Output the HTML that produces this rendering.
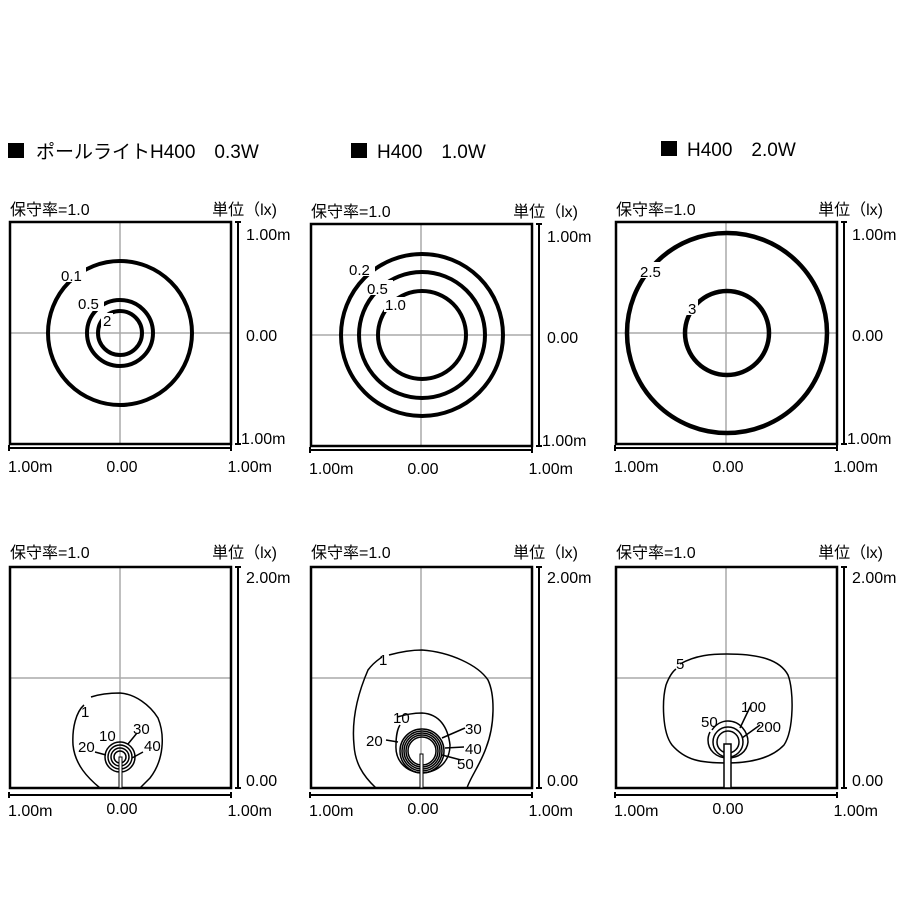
<!DOCTYPE html>
<html><head><meta charset="utf-8"><style>
html,body{margin:0;padding:0;background:#fff;}
svg{display:block;}
text{font-family:"Liberation Sans","Noto Sans CJK JP",sans-serif;fill:#000;}
</style></head><body>
<svg width="900" height="900" viewBox="0 0 900 900" xmlns="http://www.w3.org/2000/svg">
<rect width="900" height="900" fill="#fff"/>
<!-- titles -->
<rect x="8" y="143" width="16" height="15" fill="#000"/>
<text x="36" y="158" font-size="19">ポールライトH400　0.3W</text>
<rect x="351" y="143" width="16" height="15" fill="#000"/>
<text x="377" y="158" font-size="19">H400　1.0W</text>
<rect x="661" y="141" width="16" height="15" fill="#000"/>
<text x="687" y="156" font-size="19">H400　2.0W</text>

<defs>
<g id="frameTop">
  <text x="10" y="215" font-size="16">保守率=1.0</text>
  <text x="277" y="215" font-size="16" text-anchor="end">単位（lx)</text>
  <line x1="10" y1="333" x2="231" y2="333" stroke="#aaa" stroke-width="1.5"/>
  <line x1="120" y1="222" x2="120" y2="444" stroke="#aaa" stroke-width="1.5"/>
  <rect x="10" y="222" width="221" height="222" fill="none" stroke="#000" stroke-width="2.5"/>
  <line x1="238" y1="222" x2="238" y2="444" stroke="#000" stroke-width="2"/>
  <line x1="235" y1="222" x2="241" y2="222" stroke="#000" stroke-width="2"/>
  <line x1="235" y1="444" x2="241" y2="444" stroke="#000" stroke-width="2"/>
  <line x1="9" y1="448" x2="231" y2="448" stroke="#000" stroke-width="2"/>
  <line x1="9" y1="445" x2="9" y2="451" stroke="#000" stroke-width="2"/>
  <line x1="231" y1="445" x2="231" y2="451" stroke="#000" stroke-width="2"/>
  <text x="246" y="240" font-size="16">1.00m</text>
  <text x="246" y="341" font-size="16">0.00</text>
  <text x="241" y="444" font-size="16">1.00m</text>
  <text x="8" y="472" font-size="16">1.00m</text>
  <text x="122" y="472" font-size="16" text-anchor="middle">0.00</text>
  <text x="272" y="472" font-size="16" text-anchor="end">1.00m</text>
</g>
<g id="frameBot">
  <text x="10" y="558" font-size="16">保守率=1.0</text>
  <text x="277" y="558" font-size="16" text-anchor="end">単位（lx)</text>
  <line x1="10" y1="678" x2="231" y2="678" stroke="#aaa" stroke-width="1.5"/>
  <line x1="120" y1="567" x2="120" y2="788" stroke="#aaa" stroke-width="1.5"/>
  <rect x="10" y="567" width="221" height="221" fill="none" stroke="#000" stroke-width="2.5"/>
  <line x1="238" y1="567" x2="238" y2="788" stroke="#000" stroke-width="2"/>
  <line x1="235" y1="567" x2="241" y2="567" stroke="#000" stroke-width="2"/>
  <line x1="235" y1="788" x2="241" y2="788" stroke="#000" stroke-width="2"/>
  <line x1="9" y1="795" x2="231" y2="795" stroke="#000" stroke-width="2"/>
  <line x1="9" y1="792" x2="9" y2="798" stroke="#000" stroke-width="2"/>
  <line x1="231" y1="792" x2="231" y2="798" stroke="#000" stroke-width="2"/>
  <text x="246" y="583" font-size="16">2.00m</text>
  <text x="246" y="786" font-size="16">0.00</text>
  <text x="8" y="816" font-size="16">1.00m</text>
  <text x="122" y="814" font-size="16" text-anchor="middle">0.00</text>
  <text x="272" y="816" font-size="16" text-anchor="end">1.00m</text>
</g>
</defs>

<!-- top panel 1 -->
<use href="#frameTop"/>
<g fill="none" stroke="#000" stroke-width="4">
  <circle cx="120" cy="333" r="72"/>
  <circle cx="120" cy="333" r="33"/>
  <circle cx="120" cy="333" r="22"/>
</g>
<rect x="58" y="266" width="28" height="16" fill="#fff"/>
<text x="61" y="281" font-size="15">0.1</text>
<rect x="77" y="296" width="27" height="15" fill="#fff"/>
<text x="78" y="309" font-size="15">0.5</text>
<rect x="101" y="313" width="12" height="14" fill="#fff"/>
<text x="103" y="326" font-size="15">2</text>

<!-- top panel 2 -->
<g transform="translate(301,2)"><use href="#frameTop"/></g>
<g fill="none" stroke="#000" stroke-width="4">
  <circle cx="422" cy="335" r="81"/>
  <circle cx="422" cy="335" r="63"/>
  <circle cx="422" cy="335" r="44"/>
</g>
<rect x="348" y="261" width="27" height="15" fill="#fff"/>
<text x="349" y="275" font-size="15">0.2</text>
<rect x="366" y="280" width="27" height="15" fill="#fff"/>
<text x="367" y="294" font-size="15">0.5</text>
<rect x="384" y="297" width="27" height="15" fill="#fff"/>
<text x="385" y="310" font-size="15">1.0</text>

<!-- top panel 3 -->
<g transform="translate(606,0)"><use href="#frameTop"/></g>
<g fill="none" stroke="#000" stroke-width="4.5">
  <circle cx="727" cy="333" r="100"/>
  <circle cx="727" cy="333" r="42"/>
</g>
<rect x="639" y="262" width="27" height="16" fill="#fff"/>
<text x="640" y="277" font-size="15">2.5</text>
<rect x="686" y="300" width="12" height="15" fill="#fff"/>
<text x="688" y="314" font-size="15">3</text>

<!-- bottom panel 1 -->
<use href="#frameBot"/>
<g fill="none" stroke="#000" stroke-width="1.5">
  <path d="M100,788 C88,778 75,765 73,745 C72,728 76,712 84,705 M91,697 C100,694 110,693 120,693 C135,694 150,705 158,718 C165,735 164,760 150,778 L140,788"/>
  <circle cx="120" cy="757" r="15"/>
  <circle cx="120" cy="757" r="12"/>
  <circle cx="120" cy="757" r="9"/>
  <circle cx="120" cy="757" r="6"/>
  <path d="M95,752 L106,755 M128,744 L137,733 M132,758 L143,752"/>
</g>
<rect x="119" y="757" width="3" height="31" fill="#fff" stroke="#000" stroke-width="1"/>
<text x="81" y="717" font-size="15">1</text>
<text x="99" y="741" font-size="15">10</text>
<text x="133" y="734" font-size="15">30</text>
<text x="78" y="752" font-size="15">20</text>
<text x="144" y="751" font-size="15">40</text>

<!-- bottom panel 2 -->
<g transform="translate(301,0)"><use href="#frameBot"/></g>
<g fill="none" stroke="#000" stroke-width="1.5">
  <path d="M376,788 C362,775 355,762 354,745 C352,725 355,700 368,670 C374,662 378,660 382,657 M389,655 C400,652 412,650 422,650 C450,652 478,665 488,680 C495,695 495,725 486,748 C480,765 470,778 467,788"/>
  <path d="M397,717 C405,715 412,713 422,713 C440,714 448,728 450,745 C450,760 440,772 422,773 C405,772 395,760 396,745 C396,735 398,728 400,725"/>
  <circle cx="422" cy="751" r="22"/>
  <circle cx="422" cy="751" r="20"/>
  <circle cx="422" cy="751" r="18"/>
  <circle cx="422" cy="751" r="16"/>
  <circle cx="422" cy="751" r="14"/>
  <path d="M386,740 L398,742 M465,728 L442,738 M464,747 L445,748 M461,760 L442,755"/>
</g>
<rect x="420" y="754" width="3" height="34" fill="#fff" stroke="#000" stroke-width="1"/>
<text x="379" y="665" font-size="15">1</text>
<text x="393" y="723" font-size="15">10</text>
<text x="366" y="746" font-size="15">20</text>
<text x="465" y="734" font-size="15">30</text>
<text x="465" y="754" font-size="15">40</text>
<text x="457" y="769" font-size="15">50</text>

<!-- bottom panel 3 -->
<g transform="translate(606,0)"><use href="#frameBot"/></g>
<g fill="none" stroke="#000" stroke-width="1.5">
  <path d="M680,664 C696,655 712,654 727,654 C760,654 780,660 788,675 C794,690 794,730 784,745 C770,760 745,763 727,763 C700,763 685,760 672,745 C662,732 662,700 666,685 C669,677 672,672 676,669"/>
  <path d="M712,730 C716,724 722,721 728,721 C740,721 748,732 748,742 C747,752 738,758 728,758 C716,758 708,750 708,740 C708,737 709,734 710,732"/>
  <circle cx="728" cy="742" r="15"/>
  <circle cx="728" cy="742" r="11"/>
  <path d="M751,705 L740,728 M760,725 L742,738"/>
</g>
<rect x="724" y="744" width="7" height="44" fill="#fff" stroke="#000" stroke-width="1.5"/>
<text x="676" y="669" font-size="15">5</text>
<text x="741" y="712" font-size="15">100</text>
<text x="701" y="727" font-size="15">50</text>
<text x="756" y="732" font-size="15">200</text>
</svg>
</body></html>
